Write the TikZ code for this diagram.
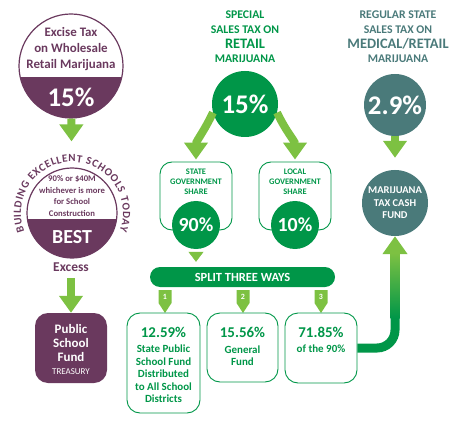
\documentclass[tikz,border=0pt]{standalone}
\usepackage{fontspec}
\setmainfont{Carlito}
\usetikzlibrary{positioning, arrows.meta, decorations.text}
\definecolor{purp}{RGB}{106,57,94}
\definecolor{dgreen}{RGB}{0,150,72}
\definecolor{lgreen}{RGB}{125,193,66}
\definecolor{taxteal}{RGB}{74,122,122}
\newcommand\setfs[2]{\fontsize{#1}{#2}\selectfont\bfseries}

\tikzset{
	fatarrow/.style={draw=lgreen, line width=8bp, -{Triangle[length=17bp, width=23bp, color=lgreen]}},
	ring/.style={circle, draw=purp, line width=1.2bp, inner sep=0pt},
	disc/.style={circle, inner sep=0pt, text=white},
	sharebox/.style={draw=dgreen, line width=0.9bp, rounded corners=12bp},
	fundbox/.style={draw=dgreen, line width=0.9bp, rounded corners=13bp},
	fundpct/.style={text=dgreen, font=\setfs{15}{15}},
	funddesc/.style={text=dgreen, align=center, font=\setfs{11}{12.5}},
	taxtitle/.style={align=center, font=\setfs{11.8}{14.7}},
}

\begin{document}
\begin{tikzpicture}[x=1bp, y=1bp]
	\useasboundingbox (0,0) rectangle (451,-433);

	\node[ring, minimum size=104bp] (excise) at (71,-66) {};
	\begin{scope}
		\clip (excise.center) circle (52);
		\fill[purp] (10,-77) rectangle (135,-125);
	\end{scope}
	\node[align=center, text=purp, font=\setfs{13}{16.5}] (excisetxt) at (71,-49) {Excise Tax\\on Wholesale\\Retail Marijuana};
	\node[text=white, font=\setfs{27}{27}] (excisepct) at (71,-97) {15\%};

	\node[ring, minimum size=90bp] (best) at (72,-213) {};
	\begin{scope}
		\clip (best.center) circle (45);
		\fill[purp] (20,-219) rectangle (125,-262);
	\end{scope}
	\path[decorate, decoration={text along path, text align=fit to path,
			text={|\setfs{11}{11}\color{purp}|BUILDING EXCELLENT SCHOOLS TODAY}}]
		(best.center) ++(201:51) arc (201:-21:51);
	\node[align=center, text=purp, font=\setfs{8.7}{11.5}] (besttxt) at (72,-196) {90\% or \$40M\\whichever is more\\for School\\Construction};
	\node[text=white, font=\setfs{20}{20}] (bestlbl) at (72,-237) {BEST};

	\node[text=purp, font=\setfs{13.5}{13.5}] (excess) at (71,-267) {Excess};

	\node[fill=purp, rounded corners=13bp, minimum width=72bp, minimum height=70bp] (psf) at (71,-348) {};
	\node[align=center, text=white, font=\setfs{13}{14}] (psftxt) at (71,-343) {Public\\School\\Fund};
	\node[text=white, font=\fontsize{9}{9}\selectfont] (psftres) at (71,-372) {TREASURY};

	\draw[fatarrow, shorten >=26bp] (excise) -- (best);
	\draw[fatarrow, shorten <=3bp] (excess) -- (psf);

	\node[taxtitle, text=dgreen] (sstitle) at (245,-37) {SPECIAL\\SALES TAX ON\\{\fontsize{14.5}{14.5}\selectfont RETAIL}\\MARIJUANA};
	\node[disc, fill=dgreen, minimum size=66bp, font=\setfs{27}{27}] (sst) at (245,-104) {15\%};

	\node[sharebox, minimum width=72bp, minimum height=68bp] (state) at (196,-196) {};
	\node[align=center, text=dgreen, font=\setfs{8.5}{10}] (statetxt) at (196,-182) {STATE\\GOVERNMENT\\SHARE};
	\node[disc, fill=dgreen, minimum size=48bp, font=\setfs{20}{20}] (s90) at (196,-225) {90\%};

	\node[sharebox, minimum width=72bp, minimum height=68bp] (local) at (295,-196) {};
	\node[align=center, text=dgreen, font=\setfs{8.5}{10}] (localtxt) at (295,-182) {LOCAL\\GOVERNMENT\\SHARE};
	\node[disc, fill=dgreen, minimum size=48bp, font=\setfs{20}{20}] (l10) at (295,-225) {10\%};

	\draw[fatarrow, shorten >=2bp] (sst.195) to[out=245, in=90] (state.north);
	\draw[fatarrow, shorten >=2bp] (sst.-15) to[out=-65, in=90] (local.north);

	\node[fill=dgreen, rounded corners=10bp, minimum width=185bp, minimum height=20bp, text=white, font=\setfs{12.5}{12.5}] (split) at (242.5,-277) {SPLIT THREE WAYS};
	\draw[lgreen, -{Triangle[length=10bp, width=15bp]}, shorten <=3bp, shorten >=5bp] (s90.south) -- (s90.south |- split.north);

	\foreach \x/\n in {165/1, 243/2, 321/3} {
		\fill[lgreen] (\x-6.5,-290) -- (\x+6.5,-290) -- (\x+6.5,-303) -- (\x,-313) -- (\x-6.5,-303) -- cycle;
		\node[text=white, font=\setfs{8}{8}] (tag\n) at (\x,-296.5) {\n};
	}

	\node[fundbox, minimum width=73bp, minimum height=100bp] (fund1) at (163.5,-363) {};
	\node[fundpct] (fund1pct) at (163.5,-332) {12.59\%};
	\node[funddesc] (fund1txt) at (163.5,-374) {State Public\\School Fund\\Distributed\\to All School\\Districts};

	\node[fundbox, minimum width=71bp, minimum height=69bp] (fund2) at (242.5,-347.5) {};
	\node[fundpct] (fund2pct) at (242.5,-332) {15.56\%};
	\node[funddesc] (fund2txt) at (242.5,-355.5) {General\\Fund};

	\node[fundbox, minimum width=72bp, minimum height=70bp] (fund3) at (321,-348) {};
	\node[fundpct] (fund3pct) at (321,-332) {71.85\%};
	\node[funddesc] (fund3txt) at (321,-349) {of the 90\%};

	\node[taxtitle, text=taxteal] (rstitle) at (398,-37) {REGULAR STATE\\SALES TAX ON\\{\fontsize{14.5}{14.5}\selectfont MEDICAL/RETAIL}\\MARIJUANA};
	\node[disc, fill=taxteal, minimum size=62bp, font=\setfs{27}{27}] (rst) at (395,-105) {2.9\%};
	\node[disc, fill=taxteal, minimum size=66bp, align=center, font=\setfs{10.5}{12.5}] (mtcf) at (395,-203) {MARIJUANA\\TAX CASH\\FUND};

	\draw[fatarrow, shorten >=12bp] (rst) -- (mtcf);
	\draw[dgreen, line width=9bp, rounded corners=18bp, -{Triangle[length=18bp, width=24bp, color=lgreen]}] (fund3.east) -| (mtcf.south);
	\shade[top color=lgreen, bottom color=dgreen] (390.5,-253) rectangle (399.5,-318);
\end{tikzpicture}
\end{document}
